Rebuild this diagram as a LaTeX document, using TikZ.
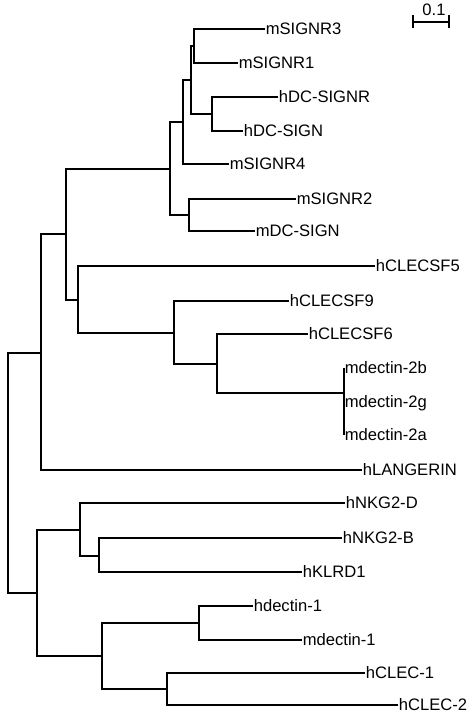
\documentclass[tikz,border=0pt]{standalone}
\usepackage{fontspec}
\setmainfont{Liberation Sans}
\usepackage{tikz}
\usetikzlibrary{positioning}

\tikzset{
  branch/.style={line width=2.5pt, line cap=butt, line join=miter},
  leaf/.style={anchor=west, inner sep=0.8pt, outer sep=0pt,
               font=\fontsize{16.6}{20}\selectfont, text height=11.9pt, text depth=0pt},
}

\begin{document}
\begin{tikzpicture}[x=1pt, y=-1pt]

\useasboundingbox (0,0) rectangle (474,714);

% === Scale bar ===
\coordinate (barL) at (413,22);
\coordinate (barR) at (449,22);
\draw[line width=2.3pt] (barL) -- (barR);
\draw[line width=2.3pt] (413,15) -- (413,28);
\draw[line width=2.3pt] (449,15) -- (449,28);
\node[font=\fontsize{16.6}{20}\selectfont, anchor=base, inner sep=0pt] (barlbl) at (434,16) {0.1};

% === Leaves ===
\node[leaf] (mSIGNRiii) at (265,29)  {mSIGNR3};
\node[leaf] (mSIGNRi)   at (238,63)  {mSIGNR1};
\node[leaf] (hDCSIGNR)  at (278,97)  {hDC-SIGNR};
\node[leaf] (hDCSIGN)   at (243,131) {hDC-SIGN};
\node[leaf] (mSIGNRiv)  at (229,164) {mSIGNR4};
\node[leaf] (mSIGNRii)  at (296,199) {mSIGNR2};
\node[leaf] (mDCSIGN)   at (255,231) {mDC-SIGN};
\node[leaf] (hCLECSFv)  at (375,266) {hCLECSF5};
\node[leaf] (hCLECSFix) at (289,301) {hCLECSF9};
\node[leaf] (hCLECSFvi) at (308,334) {hCLECSF6};
\node[leaf] (mdectinb)  at (344,368) {mdectin-2b};
\node[leaf] (mdecting)  at (344,402) {mdectin-2g};
\node[leaf] (mdectina)  at (344,435) {mdectin-2a};
\node[leaf] (hLANGERIN) at (362,470) {hLANGERIN};
\node[leaf] (hNKGD)     at (345,503) {hNKG2-D};
\node[leaf] (hNKGB)     at (342,538) {hNKG2-B};
\node[leaf] (hKLRD)     at (302,572) {hKLRD1};
\node[leaf] (hdectin)   at (253,606) {hdectin-1};
\node[leaf] (mdectin)   at (302,640) {mdectin-1};
\node[leaf] (hCLECi)    at (365,673) {hCLEC-1};
\node[leaf] (hCLECii)   at (398,705) {hCLEC-2};

% === Internal nodes ===
\coordinate (nA)  at (194,46);
\coordinate (nB)  at (212,114);
\coordinate (nC)  at (191,80);
\coordinate (nD)  at (183,122);
\coordinate (nE)  at (189,215);
\coordinate (nF)  at (170,169);
\coordinate (nMd) at (344,393);
\coordinate (nG)  at (217,364);
\coordinate (nH)  at (174,333);
\coordinate (nI)  at (78,300);
\coordinate (nJ)  at (66,234);
\coordinate (nK)  at (41,353);
\coordinate (nL)  at (99,556);
\coordinate (nM)  at (80,530);
\coordinate (nN)  at (199,623);
\coordinate (nO)  at (167,689);
\coordinate (nP)  at (102,656);
\coordinate (nQ)  at (37,593);
\coordinate (root) at (8,473);

% === Branches ===
% SIGNR group
\draw[branch] (nA) |- (mSIGNRiii.west);
\draw[branch] (nA) |- (mSIGNRi.west);
\draw[branch] (nB) |- (hDCSIGNR.west);
\draw[branch] (nB) |- (hDCSIGN.west);
\draw[branch] (nC) |- (nA);
\draw[branch] (nC) |- (nB);
\draw[branch] (nD) |- (nC);
\draw[branch] (nD) |- (mSIGNRiv.west);
\draw[branch] (nE) |- (mSIGNRii.west);
\draw[branch] (nE) |- (mDCSIGN.west);
\draw[branch] (nF) |- (nD);
\draw[branch] (nF) |- (nE);

% CLECSF / dectin-2 group
\draw[branch] (nMd) |- (mdectinb.west);
\draw[branch] (nMd) |- (mdecting.west);
\draw[branch] (nMd) |- (mdectina.west);
\draw[branch] (nG) |- (hCLECSFvi.west);
\draw[branch] (nG) |- (nMd);
\draw[branch] (nH) |- (hCLECSFix.west);
\draw[branch] (nH) |- (nG);
\draw[branch] (nI) |- (hCLECSFv.west);
\draw[branch] (nI) |- (nH);
\draw[branch] (nJ) |- (nF);
\draw[branch] (nJ) |- (nI);
\draw[branch] (nK) |- (nJ);
\draw[branch] (nK) |- (hLANGERIN.west);

% NKG2 / dectin-1 / CLEC group
\draw[branch] (nL) |- (hNKGB.west);
\draw[branch] (nL) |- (hKLRD.west);
\draw[branch] (nM) |- (hNKGD.west);
\draw[branch] (nM) |- (nL);
\draw[branch] (nN) |- (hdectin.west);
\draw[branch] (nN) |- (mdectin.west);
\draw[branch] (nO) |- (hCLECi.west);
\draw[branch] (nO) |- (hCLECii.west);
\draw[branch] (nP) |- (nN);
\draw[branch] (nP) |- (nO);
\draw[branch] (nQ) |- (nM);
\draw[branch] (nQ) |- (nP);

% Root
\draw[branch] (root) |- (nK);
\draw[branch] (root) |- (nQ);

\end{tikzpicture}
\end{document}
